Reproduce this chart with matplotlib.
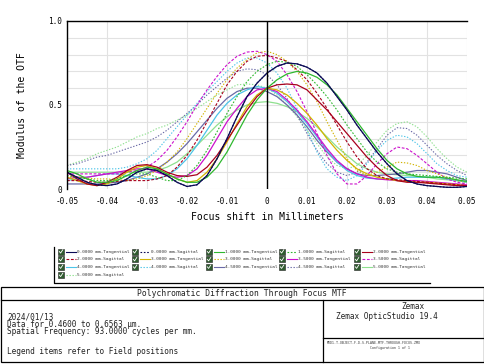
import numpy as np
import matplotlib
matplotlib.use("Agg")
from matplotlib import pyplot as plt
from matplotlib.patches import Rectangle

# focus shift samples (mm), one value every 0.0025
focus = np.round(np.arange(-0.05, 0.05001, 0.0025), 4)

fields = ["0.0000", "1.0000", "2.0000", "3.0000", "3.5000", "4.0000", "4.5000", "5.0000"]
colors = ["#0a0a55", "#2eb82e", "#a8001c", "#d2b400", "#cc10cc", "#4cc4e8", "#6a6aa6", "#8ee08e"]

# tangential MTF at 93 cyc/mm
tan_00 = [0.10, 0.07, 0.04, 0.025, 0.02, 0.03, 0.06, 0.10, 0.12, 0.11, 0.08, 0.04, 0.015, 0.025, 0.08, 0.18, 0.30, 0.43, 0.55, 0.63,
          0.69, 0.73, 0.75, 0.745, 0.725, 0.69, 0.63, 0.55, 0.47, 0.38, 0.30, 0.22, 0.15, 0.09, 0.05, 0.03, 0.02, 0.015, 0.01, 0.01, 0.015]
tan_10 = [0.11, 0.09, 0.06, 0.04, 0.04, 0.05, 0.08, 0.11, 0.13, 0.12, 0.09, 0.06, 0.04, 0.04, 0.07, 0.13, 0.22, 0.33, 0.44, 0.53,
          0.60, 0.65, 0.685, 0.70, 0.69, 0.665, 0.62, 0.56, 0.48, 0.40, 0.32, 0.24, 0.17, 0.12, 0.09, 0.075, 0.07, 0.07, 0.065, 0.055, 0.045]
tan_20 = [0.10, 0.06, 0.03, 0.02, 0.04, 0.07, 0.11, 0.14, 0.145, 0.13, 0.10, 0.08, 0.075, 0.085, 0.13, 0.20, 0.29, 0.38, 0.47, 0.55,
          0.60, 0.62, 0.625, 0.62, 0.59, 0.53, 0.47, 0.40, 0.33, 0.26, 0.19, 0.13, 0.08, 0.05, 0.04, 0.04, 0.035, 0.03, 0.025, 0.02, 0.02]
tan_30 = [0.07, 0.05, 0.03, 0.02, 0.03, 0.06, 0.10, 0.13, 0.14, 0.12, 0.09, 0.06, 0.04, 0.05, 0.10, 0.18, 0.28, 0.39, 0.49, 0.56,
          0.60, 0.59, 0.56, 0.51, 0.45, 0.38, 0.30, 0.23, 0.17, 0.12, 0.09, 0.07, 0.06, 0.05, 0.045, 0.04, 0.04, 0.035, 0.03, 0.025, 0.02]
tan_35 = [0.06, 0.07, 0.07, 0.08, 0.09, 0.10, 0.11, 0.12, 0.12, 0.10, 0.08, 0.07, 0.08, 0.12, 0.20, 0.30, 0.40, 0.48, 0.55, 0.59,
          0.60, 0.58, 0.53, 0.47, 0.40, 0.32, 0.24, 0.17, 0.12, 0.09, 0.07, 0.06, 0.055, 0.05, 0.05, 0.05, 0.045, 0.04, 0.035, 0.03, 0.025]
tan_40 = [0.05, 0.06, 0.07, 0.08, 0.09, 0.09, 0.08, 0.07, 0.06, 0.06, 0.08, 0.12, 0.18, 0.26, 0.35, 0.44, 0.51, 0.56, 0.59, 0.61,
          0.60, 0.57, 0.52, 0.46, 0.39, 0.31, 0.23, 0.16, 0.11, 0.08, 0.065, 0.06, 0.06, 0.065, 0.07, 0.07, 0.07, 0.07, 0.06, 0.05, 0.04]
tan_45 = [0.03, 0.03, 0.03, 0.03, 0.035, 0.04, 0.05, 0.07, 0.09, 0.12, 0.16, 0.21, 0.27, 0.34, 0.41, 0.48, 0.54, 0.58, 0.60, 0.60,
          0.58, 0.55, 0.50, 0.44, 0.37, 0.29, 0.22, 0.16, 0.12, 0.09, 0.08, 0.08, 0.085, 0.09, 0.10, 0.11, 0.11, 0.10, 0.09, 0.07, 0.05]
tan_50 = [0.10, 0.10, 0.10, 0.10, 0.10, 0.10, 0.10, 0.10, 0.10, 0.11, 0.13, 0.16, 0.21, 0.26, 0.32, 0.38, 0.43, 0.47, 0.50, 0.515,
          0.52, 0.51, 0.49, 0.46, 0.42, 0.37, 0.31, 0.25, 0.20, 0.15, 0.12, 0.10, 0.09, 0.085, 0.08, 0.075, 0.07, 0.06, 0.055, 0.05, 0.04]

# sagittal MTF (on axis it is the same as tangential)
sag_00 = list(tan_00)
sag_10 = [0.08, 0.07, 0.06, 0.05, 0.05, 0.06, 0.08, 0.09, 0.09, 0.07, 0.05, 0.05, 0.08, 0.14, 0.23, 0.34, 0.45, 0.55, 0.64, 0.70,
          0.74, 0.76, 0.755, 0.73, 0.68, 0.62, 0.55, 0.47, 0.38, 0.30, 0.22, 0.16, 0.12, 0.10, 0.09, 0.085, 0.08, 0.075, 0.07, 0.065, 0.06]
sag_20 = [0.05, 0.05, 0.045, 0.04, 0.04, 0.045, 0.05, 0.05, 0.05, 0.06, 0.08, 0.13, 0.20, 0.29, 0.40, 0.51, 0.62, 0.70, 0.76, 0.79,
          0.795, 0.78, 0.76, 0.71, 0.65, 0.57, 0.48, 0.38, 0.28, 0.19, 0.12, 0.08, 0.06, 0.055, 0.05, 0.045, 0.04, 0.035, 0.03, 0.025, 0.02]
sag_30 = [0.07, 0.07, 0.065, 0.06, 0.06, 0.055, 0.05, 0.06, 0.08, 0.11, 0.16, 0.22, 0.30, 0.39, 0.48, 0.57, 0.65, 0.72, 0.77, 0.81,
          0.82, 0.80, 0.76, 0.70, 0.62, 0.52, 0.40, 0.29, 0.18, 0.11, 0.08, 0.10, 0.13, 0.16, 0.155, 0.14, 0.11, 0.09, 0.07, 0.05, 0.04]
sag_35 = [0.09, 0.09, 0.09, 0.09, 0.09, 0.09, 0.10, 0.11, 0.13, 0.17, 0.23, 0.31, 0.40, 0.50, 0.59, 0.67, 0.74, 0.79, 0.815, 0.82,
          0.80, 0.76, 0.68, 0.58, 0.46, 0.33, 0.20, 0.09, 0.03, 0.03, 0.08, 0.15, 0.21, 0.25, 0.24, 0.20, 0.15, 0.10, 0.06, 0.04, 0.03]
sag_40 = [0.12, 0.12, 0.12, 0.12, 0.12, 0.12, 0.13, 0.15, 0.18, 0.23, 0.30, 0.37, 0.44, 0.51, 0.58, 0.64, 0.70, 0.75, 0.78, 0.78,
          0.75, 0.69, 0.60, 0.48, 0.35, 0.22, 0.12, 0.07, 0.05, 0.08, 0.15, 0.23, 0.29, 0.32, 0.31, 0.27, 0.21, 0.15, 0.11, 0.08, 0.07]
sag_45 = [0.14, 0.15, 0.17, 0.19, 0.20, 0.22, 0.24, 0.26, 0.28, 0.31, 0.35, 0.40, 0.45, 0.50, 0.56, 0.61, 0.66, 0.70, 0.715, 0.71,
          0.68, 0.62, 0.54, 0.44, 0.33, 0.23, 0.15, 0.10, 0.08, 0.10, 0.16, 0.24, 0.32, 0.365, 0.36, 0.32, 0.26, 0.20, 0.15, 0.11, 0.08]
sag_50 = [0.14, 0.16, 0.18, 0.21, 0.23, 0.25, 0.28, 0.31, 0.33, 0.36, 0.38, 0.41, 0.44, 0.48, 0.52, 0.56, 0.59, 0.62, 0.625, 0.62,
          0.60, 0.56, 0.50, 0.43, 0.35, 0.27, 0.19, 0.14, 0.12, 0.14, 0.20, 0.28, 0.35, 0.39, 0.40, 0.37, 0.31, 0.24, 0.18, 0.13, 0.10]

tan_all = [tan_00, tan_10, tan_20, tan_30, tan_35, tan_40, tan_45, tan_50]
sag_all = [sag_00, sag_10, sag_20, sag_30, sag_35, sag_40, sag_45, sag_50]
sag_styles = [(0, (1.5, 1.5)), (0, (1.5, 1.5)), (0, (2.5, 1.5)), (0, (1.2, 1.5)),
              (0, (2.5, 1.5)), (0, (1.2, 1.5)), (0, (1.2, 1.5)), (0, (1.2, 1.5))]

mono = "DejaVu Sans Mono"

fig = plt.figure(figsize=(4.85, 3.64), dpi=100)

# overlay in pixel coords for the legend block and the info box
fa = fig.add_axes([0, 0, 1, 1])
fa.set_xlim(0, 485)
fa.set_ylim(364, 0)
fa.axis("off")

ax = fig.add_axes([67 / 485, 1 - 189 / 364, 400 / 485, 168 / 364])
for i in reversed(range(len(fields))):
    ax.plot(focus, sag_all[i], color=colors[i], lw=0.8, ls=sag_styles[i])
    ax.plot(focus, tan_all[i], color=colors[i], lw=0.9)

ax.set_xlim(-0.05, 0.05)
ax.set_ylim(0, 1.0)
ax.set_xticks(np.round(np.arange(-0.05, 0.0501, 0.01), 2))
ax.set_xticklabels(["-0.05", "-0.04", "-0.03", "-0.02", "-0.01", "0", "0.01", "0.02", "0.03", "0.04", "0.05"])
ax.set_yticks([0, 0.5, 1.0])
ax.set_yticklabels(["0", "0.5", "1.0"])
ax.set_yticks(np.arange(0, 1.01, 0.1), minor=True)
ax.grid(True, which="both", color="#e2e2e2", lw=0.8)
ax.set_axisbelow(True)
ax.tick_params(length=0, labelsize=5.6, which="both")
ax.tick_params(axis="x", pad=5.5)
ax.tick_params(axis="y", pad=3.5)
for lab in ax.get_xticklabels() + ax.get_yticklabels():
    lab.set_family(mono)
ax.spines["right"].set_visible(False)
ax.spines["bottom"].set_visible(False)
ax.spines["top"].set_linewidth(1.0)
ax.spines["left"].set_linewidth(1.0)
ax.axvline(0, color="black", lw=1.0)
ax.set_xlabel("Focus shift in Millimeters", family=mono, fontsize=7)
ax.set_ylabel("Modulus of the OTF", family=mono, fontsize=7)
ax.xaxis.set_label_coords(0.5, -0.135)
ax.yaxis.set_label_coords(-0.1, 0.5)

# legend block
col_x = [58, 132, 206, 279, 354]
row_y = [251.5, 259.3, 266.8, 275]
labels = []
for i, f in enumerate(fields):
    labels.append((f + " mm-Tangential", colors[i], "-"))
    labels.append((f + " mm-Sagittal", colors[i], sag_styles[i]))
for k, (txt, c, ls) in enumerate(labels):
    x = col_x[k % 5]
    y = row_y[k // 5]
    fa.add_patch(Rectangle((x, y - 3), 6, 6, facecolor="#2f5c2f", edgecolor="#222222", lw=0.4))
    fa.plot([x + 1.3, x + 2.6, x + 4.8], [y, y + 1.6, y - 1.8], color="white", lw=0.6)
    fa.plot([x + 8, x + 18], [y, y], color=c, ls=ls, lw=0.8)
    fa.text(x + 19, y, txt, family=mono, fontsize=3.2, color="#333333", va="center", ha="left")
fa.plot([54, 54, 430], [247, 283, 283], color="black", lw=0.9)

# info box
fa.add_patch(Rectangle((1, 287), 483, 75, facecolor="none", edgecolor="black", lw=0.9))
fa.plot([1, 484], [300, 300], color="black", lw=0.9)
fa.plot([323, 323], [300, 362], color="black", lw=0.9)
fa.plot([323, 484], [338, 338], color="black", lw=0.9)
fa.text(242, 294, "Polychromatic Diffraction Through Focus MTF", family=mono, fontsize=5.8,
        ha="center", va="center", color="#222222")
info_lines = ["2024/01/13", "Data for 0.4600 to 0.6563 \u00b5m.",
              "Spatial Frequency: 93.0000 cycles per mm.", "Legend items refer to Field positions"]
info_y = [316.5, 324.2, 331.8, 351.5]
for s, yy in zip(info_lines, info_y):
    fa.text(7, yy, s, family=mono, fontsize=5.6, ha="left", va="center", color="#222222")
fa.text(413, 306.5, "Zemax", family=mono, fontsize=5.6, ha="center", va="center", color="#222222")
fa.text(387, 316.5, "Zemax OpticStudio 19.4", family=mono, fontsize=5.6, ha="center", va="center", color="#222222")
fa.text(327, 342.5, "MOD1.T-OBJECT-F-D-S-PLANE-MTF-THROUGH-FOCUS.ZMX", family=mono, fontsize=2.3,
        ha="left", va="center", color="#333333")
fa.text(390, 347.5, "Configuration 1 of 1", family=mono, fontsize=2.3, ha="center", va="center", color="#333333")

fig.savefig("out.png", dpi=100)
